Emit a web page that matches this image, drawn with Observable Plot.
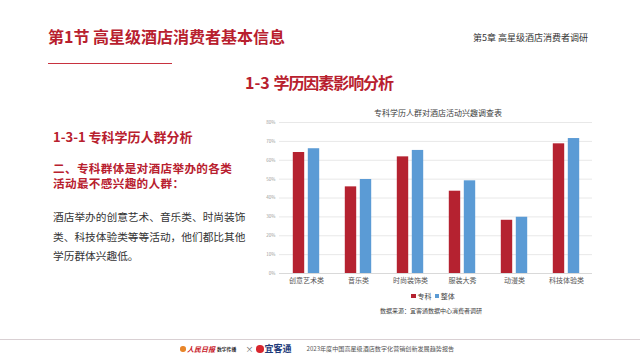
<!DOCTYPE html>
<html>
<head>
<meta charset="utf-8">
<script src="https://cdn.jsdelivr.net/npm/d3@7"></script>
<script src="https://cdn.jsdelivr.net/npm/@observablehq/plot@0.6"></script>
<style>
  html, body { margin: 0; padding: 0; background: #fff; }
  body { width: 640px; height: 360px; position: relative; overflow: hidden; font-family: "Noto Sans CJK SC", "Noto Sans", sans-serif; }
  .abs { position: absolute; white-space: nowrap; line-height: 1; }
  .red { color: #B8202E; font-weight: bold; }
</style>
</head>
<body>
<div class="abs red" style="left:48px; top:28px; font-size:16px;">第1节 高星级酒店消费者基本信息</div>
<div class="abs" style="left:48px; top:62.5px; width:124px; height:1.5px; background:#C8323F;"></div>
<div class="abs" style="left:473px; top:33.3px; font-size:9px; color:#333;">第5章 高星级酒店消费者调研</div>

<div id="sec" class="abs red" style="left:245px; top:74px; font-size:16px;"><span>1-3 </span><span id="secCjk">学历因素影响分析</span></div>

<div class="abs red" style="left:53px; top:129.5px; font-size:13px;">1-3-1 专科学历人群分析</div>
<div class="abs red" style="left:53px; top:163.2px; font-size:11.6px; letter-spacing:0.35px;">二、专科群体是对酒店举办的各类</div>
<div class="abs red" style="left:53px; top:178.4px; font-size:11.6px; letter-spacing:0.35px;">活动最不感兴趣的人群：</div>
<div class="abs" style="left:53px; top:207px; font-size:10.7px; line-height:19.5px; color:#333;">酒店举办的创意艺术、音乐类、时尚装饰<br>类、科技体验类等等活动，他们都比其他<br>学历群体兴趣低。</div>

<div class="abs" style="left:338px; width:200px; text-align:center; top:108.7px; font-size:8px; color:#404040;">专科学历人群对酒店活动兴趣调查表</div>
<div id="chart" class="abs" style="left:262px; top:118px;"></div>
<div id="legend" class="abs" style="left:333px; width:200px; top:292.5px; font-size:7px; color:#404040; display:flex; justify-content:center; align-items:center;"></div>
<div class="abs" style="left:331px; width:200px; text-align:center; top:308px; font-size:6px; color:#404040;">数据来源：宜客通数据中心消费者调研</div>

<div class="abs" style="left:0; top:339px; width:640px; height:1px; background:#d9d0d3;"></div>
<div class="abs" style="left:180px; top:346.3px; width:5.5px; height:5.5px; border-radius:50%; background:#E8862A;"></div>
<div class="abs" style="left:187px; top:345.5px; font-size:7px; color:#C8202A; font-style:italic; font-weight:bold;">人民日报</div>
<div class="abs" style="left:217px; top:346.5px; font-size:4.8px; color:#333; font-weight:bold;">数字传播</div>
<div class="abs" style="left:245.5px; top:344.5px; font-size:8px; color:#666;">×</div>
<div class="abs" style="left:256px; top:345px; width:7.5px; height:7.5px; border-radius:50%; background:#D8262E;"></div>
<div class="abs" style="left:264.5px; top:344px; font-size:9px; color:#1D3A7A; font-weight:bold;">宜客通</div>
<div class="abs" style="left:306.5px; top:346px; font-size:6.1px; color:#555;">2023年度中国高星级酒店数字化营销创新发展趋势报告</div>

<script>
const categories = ["创意艺术类", "音乐类", "时尚装饰类", "服装大秀", "动漫类", "科技体验类"];
const seriesNames = ["专科", "整体"];
const zhuanke = [64.1, 45.9, 61.8, 43.6, 28.2, 68.7];
const zhengti = [66.1, 49.8, 65.2, 49.1, 29.8, 71.5];
const yTicks = [0, 10, 20, 30, 40, 50, 60, 70, 80];
const colors = ["#B52230", "#5B9BD5"];

const rowsA = categories.map((c, i) => ({category: c, series: seriesNames[0], value: zhuanke[i]}));
const rowsB = categories.map((c, i) => ({category: c, series: seriesNames[1], value: zhengti[i]}));

const chart = Plot.plot({
  width: 334,
  height: 172,
  marginLeft: 17,
  marginRight: 4,
  marginTop: 4,
  marginBottom: 17,
  style: {fontFamily: "Noto Sans CJK SC, sans-serif", background: "transparent"},
  x: {domain: categories, padding: 0},
  y: {domain: [0, 80]},
  marks: [
    Plot.gridY(yTicks, {stroke: "#e8e8e8", strokeOpacity: 1}),
    Plot.ruleY([0], {stroke: "#d9d9d9"}),
    Plot.axisY(yTicks, {tickSize: 0, tickPadding: 4, tickFormat: d => d + "%", fontSize: 4.5, fill: "#999", label: null}),
    Plot.axisX({tickSize: 0, tickPadding: 5, fontSize: 7, fill: "#555", label: null}),
    Plot.barY(rowsA, {x: "category", y: "value", fill: colors[0], insetLeft: 12.8, insetRight: 27.8}),
    Plot.barY(rowsB, {x: "category", y: "value", fill: colors[1], insetLeft: 27.8, insetRight: 12.8})
  ]
});
document.getElementById("chart").appendChild(chart);

const legend = document.getElementById("legend");
seriesNames.forEach((s, i) => {
  const sw = document.createElement("span");
  sw.style.cssText = `display:inline-block;width:4.2px;height:4.2px;background:${colors[i]};margin-right:2px;margin-left:${i ? 3 : 0}px;`;
  const t = document.createElement("span");
  t.textContent = s;
  legend.appendChild(sw);
  legend.appendChild(t);
});

// fit the section heading to the width it has on the slide (245 → 393 px)
const sec = document.getElementById("sec");
const secCjk = document.getElementById("secCjk");
const natural = sec.getBoundingClientRect().width;
const n = secCjk.textContent.length;
secCjk.style.letterSpacing = ((148 - natural) / n) + "px";
</script>
</body>
</html>
